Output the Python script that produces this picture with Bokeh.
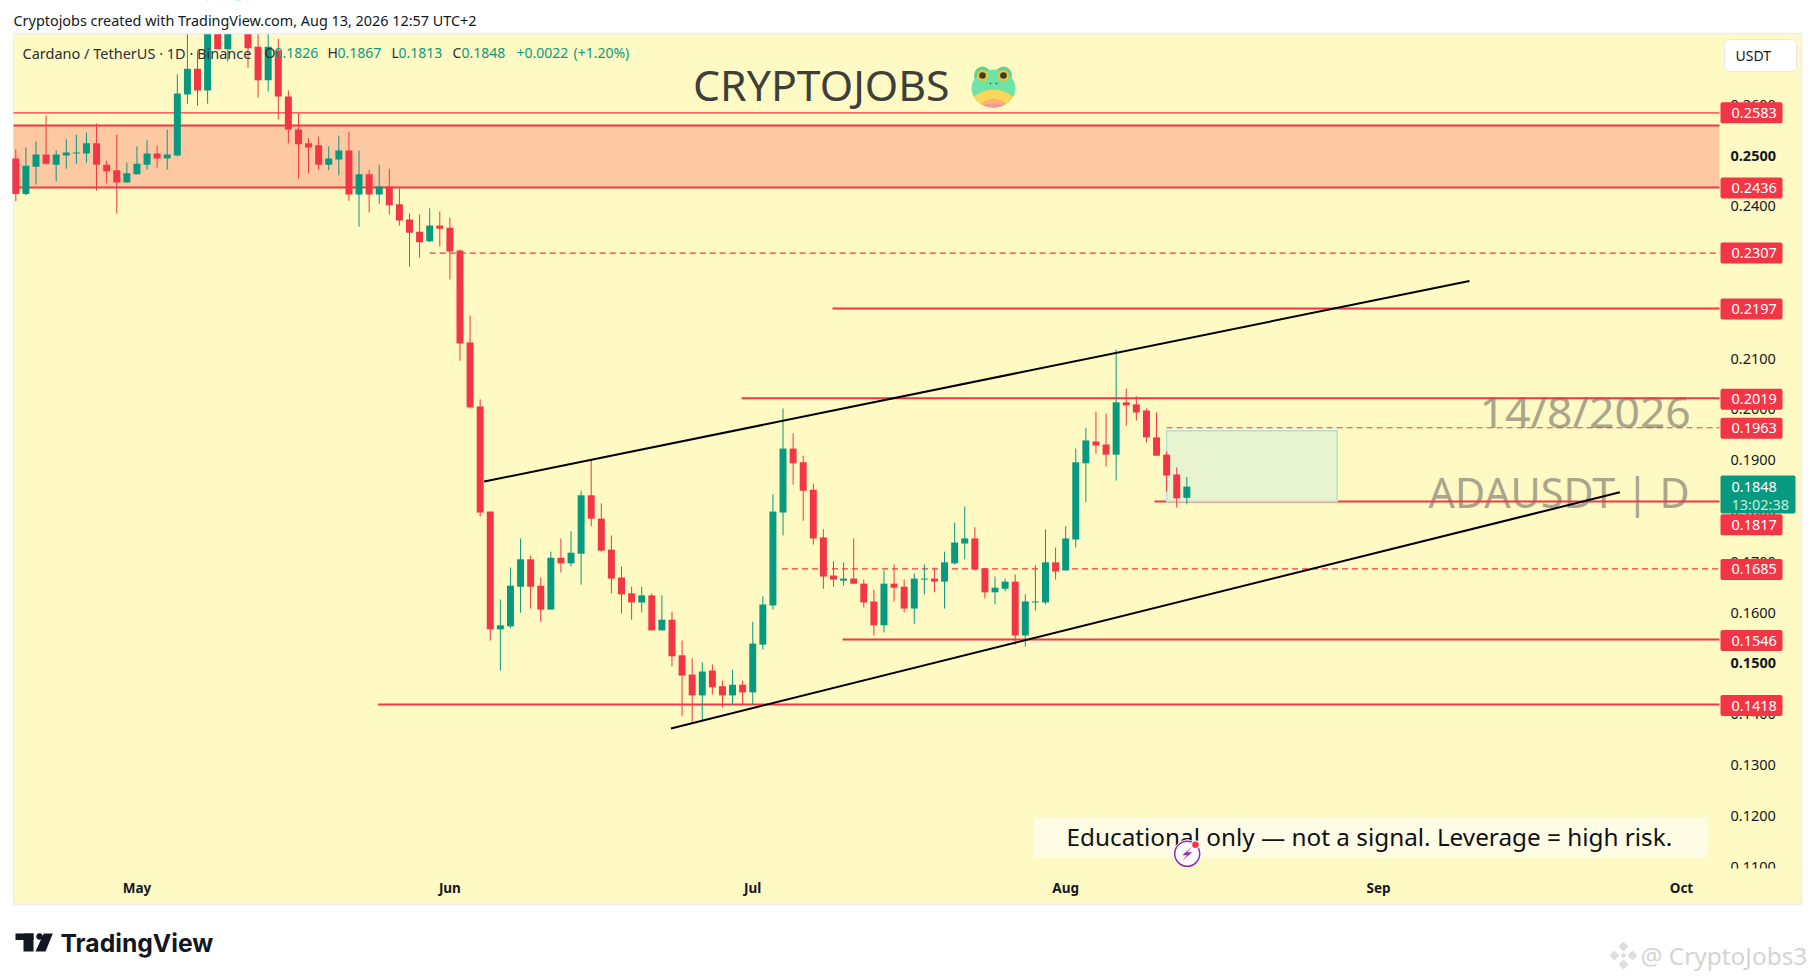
import numpy as np
from bokeh.core.properties import value
from bokeh.embed import file_html
from bokeh.models import FixedTicker, LinearAxis, NumeralTickFormatter, Range1d
from bokeh.plotting import figure
from bokeh.resources import INLINE

# ---- ADA/USDT daily candles, first candle 19 Apr (day -12), last 13 Aug (day 104); day 0 = 1 May ----
opens = [.2494,.2424,.2478,.2502,.2482,.2500,.2504,.2504,.2524,.2482,.2471,.2447,.2463,.2482,.2504,.2494,.2500,.2620,.2671,.2628,
         .2770,.2709,.2790,.2800,.2714,.2648,.2707,.2616,.2551,.2524,.2520,.2482,.2492,.2510,.2423,.2463,.2423,.2439,.2404,.2374,
         .2350,.2331,.2362,.2358,.2313,.2132,.2006,.1799,.1567,.1573,.1651,.1705,.1653,.1606,.1708,.1697,.1716,.1831,.1785,.1724,
         .1669,.1638,.1620,.1634,.1565,.1586,.1516,.1478,.1437,.1486,.1455,.1437,.1458,.1443,.1537,.1614,.1797,.1923,.1896,.1842,
         .1748,.1673,.1663,.1667,.1657,.1622,.1575,.1657,.1651,.1608,.1665,.1667,.1661,.1697,.1736,.1746,.1687,.1640,.1647,.1661,
         .1555,.1620,.1620,.1699,.1683,.1744,.1894,.1937,.1931,.1911,.2014,.2010,.1998,.1945,.1911,.1872,.1826]
highs = [.2512,.2516,.2528,.2579,.2510,.2532,.2541,.2545,.2563,.2490,.2541,.2486,.2518,.2530,.2520,.2551,.2660,.2775,.2707,.2830,
         .2810,.2800,.2860,.2830,.2780,.2780,.2730,.2628,.2583,.2534,.2537,.2518,.2539,.2547,.2510,.2472,.2482,.2474,.2435,.2386,
         .2384,.2396,.2390,.2378,.2315,.2185,.2020,.1799,.1626,.1689,.1746,.1712,.1669,.1720,.1746,.1760,.1840,.1901,.1815,.1752,
         .1691,.1651,.1651,.1638,.1634,.1602,.1545,.1510,.1502,.1498,.1466,.1488,.1466,.1582,.1632,.1833,.2002,.1953,.1909,.1854,
         .1764,.1701,.1699,.1746,.1665,.1645,.1683,.1695,.1665,.1677,.1695,.1689,.1720,.1777,.1809,.1768,.1687,.1671,.1667,.1675,
         .1636,.1693,.1764,.1728,.1770,.1923,.1964,.1996,.1992,.2118,.2041,.2026,.2002,.1994,.1917,.1886,.1867]
lows = [.2410,.2422,.2443,.2482,.2449,.2474,.2484,.2486,.2431,.2445,.2386,.2447,.2463,.2472,.2476,.2472,.2498,.2602,.2598,.2602,
        .2709,.2685,.2760,.2673,.2614,.2626,.2571,.2524,.2455,.2465,.2472,.2471,.2461,.2411,.2360,.2388,.2405,.2384,.2362,.2281,
        .2299,.2329,.2321,.2256,.2096,.2002,.1789,.1545,.1486,.1569,.1600,.1608,.1582,.1606,.1679,.1691,.1655,.1770,.1720,.1638,
        .1598,.1586,.1600,.1565,.1565,.1494,.1397,.1384,.1386,.1439,.1413,.1419,.1419,.1419,.1527,.1606,.1752,.1852,.1781,.1734,
        .1647,.1651,.1653,.1657,.1610,.1555,.1561,.1622,.1600,.1578,.1636,.1640,.1608,.1695,.1705,.1683,.1628,.1616,.1642,.1537,
        .1533,.1604,.1616,.1665,.1683,.1728,.1817,.1913,.1888,.1860,.1968,.1978,.1935,.1909,.1838,.1807,.1813]
closes = [.2424,.2480,.2502,.2484,.2502,.2506,.2506,.2524,.2482,.2469,.2447,.2465,.2484,.2504,.2494,.2502,.2622,.2671,.2628,.2770,
          .2709,.2780,.2830,.2711,.2648,.2714,.2616,.2551,.2522,.2516,.2482,.2494,.2510,.2423,.2463,.2423,.2439,.2402,.2372,.2348,
          .2329,.2362,.2356,.2311,.2130,.2004,.1797,.1567,.1575,.1653,.1705,.1651,.1606,.1708,.1697,.1718,.1831,.1785,.1722,.1667,
          .1636,.1620,.1634,.1565,.1586,.1514,.1476,.1437,.1484,.1453,.1437,.1458,.1443,.1539,.1616,.1799,.1923,.1894,.1840,.1746,
          .1671,.1665,.1667,.1657,.1620,.1575,.1657,.1649,.1608,.1667,.1667,.1661,.1699,.1738,.1746,.1685,.1640,.1649,.1661,.1555,
          .1622,.1622,.1699,.1681,.1746,.1896,.1939,.1929,.1911,.2014,.2008,.1994,.1945,.1909,.1870,.1825,.1848]
first_day = -12

price_ticks = [.11, .12, .13, .14, .16, .17, .18, .19, .20, .21, .22, .23, .24, .26]
strong_ticks = [.25, .15]
month_days = [0, 31, 61, 92, 123, 153]
month_names = ["May", "Jun", "Jul", "Aug", "Sep", "Oct"]

# level, start day (None = from the left edge)
level_lines = [.2584, .2559, .2437, .2308, .2199, .2022, .1964, .1819, .1686, .1547, .1419]
level_start = [None, None, None, 29, 68.9, 59.9, 102, 100.8, 63.9, 69.9, 23.9]
level_width = [1.2, 2, 2, 1.2, 2, 2, 1.2, 2, 1.2, 2, 2]
level_dash = ["solid", "solid", "solid", "6 4", "solid", "solid", "6 4", "solid", "6 4", "solid", "solid"]

badge_text = ["0.2583", "0.2436", "0.2307", "0.2197", "0.2019", "0.1963", "0.1817", "0.1685", "0.1546", "0.1418"]
badge_price = [.2584, .2436, .2308, .2198, .2020, .1963, .1773, .1685, .1545, .1417]

upper_channel_days, upper_channel_prices = [34.4, 132.0], [.1858, .2253]
lower_channel_days, lower_channel_prices = [52.9, 146.9], [.1372, .1837]
zone_top, zone_bottom = .2559, .2437
target_left, target_right, target_top, target_bottom = 102, 118.9, .1958, .1819

RED, GREEN = "#f23645", "#089981"
CREAM = "#fff9c4"
INK = "#131722"
FONT = "Noto Sans"


def X(px):
    return (px - 15.3) / 10.095 - 12


def Y(py):
    return 0.28052 - 0.00019689 * py


W, H = 1814, 980
x_left, x_right = X(13), X(1719)

p = figure(width=W, height=H, output_backend="svg", toolbar_location=None,
           x_range=Range1d(X(0), X(W)), y_range=Range1d(Y(H), Y(0)),
           x_axis_location=None, y_axis_location=None,
           min_border_left=0, min_border_top=0, min_border_right=0, min_border_bottom=0,
           background_fill_color="white", border_fill_color="white", outline_line_color=None)
p.grid.visible = False

# cream panel, below the axes
p.quad(left=[X(13)], right=[X(1801)], top=[Y(33)], bottom=[Y(904)], fill_color=CREAM,
       line_color="#efefef", line_width=1.5, level="image")

ya = LinearAxis(ticker=FixedTicker(ticks=price_ticks), formatter=NumeralTickFormatter(format="0.0000"))
ya.axis_line_color = None
ya.major_tick_line_color = None
ya.minor_tick_line_color = None
ya.major_tick_in = ya.major_tick_out = ya.minor_tick_in = ya.minor_tick_out = 0
ya.major_label_standoff = 1730 - W
ya.major_label_text_font = FONT
ya.major_label_text_font_size = "14.5px"
ya.major_label_text_color = INK
ya.level = "underlay"
p.add_layout(ya, "right")

xa = LinearAxis(ticker=FixedTicker(ticks=month_days),
                major_label_overrides={d: n for d, n in zip(month_days, month_names)})
xa.axis_line_color = None
xa.major_tick_line_color = None
xa.minor_tick_line_color = None
xa.major_tick_in = xa.major_tick_out = xa.minor_tick_in = xa.minor_tick_out = 0
xa.major_label_standoff = 878 - H
xa.major_label_text_font = FONT
xa.major_label_text_font_size = "13.5px"
xa.major_label_text_font_style = "bold"
xa.major_label_text_color = INK
xa.level = "underlay"
p.add_layout(xa, "below")


def note(px, py, txt, size, color, align="left", style="normal", font=FONT, alpha=1.0):
    """Text whose baseline sits at reference row py."""
    p.text([X(px)], [Y(py - 0.41 * size)], text=[txt], text_font=value(font), text_font_size=f"{size}px",
           text_color=color, text_align=align, text_baseline="alphabetic", text_font_style=style, text_alpha=alpha)


def mid(px, py, txt, size, color, style="normal", font=FONT):
    """Text vertically centred at reference row py."""
    p.text([X(px)], [Y(py)], text=[txt], text_font=value(font), text_font_size=f"{size}px",
           text_color=color, text_align="left", text_baseline="middle", text_font_style=style)


def tag(top, bottom, left, right, color, line=None, radius=0):
    p.quad(left=[X(left)], right=[X(right)], top=[Y(top)], bottom=[Y(bottom)], fill_color=color,
           line_color=line, border_radius=radius)


def poly(xs, ys, color):
    p.patch(X(np.asarray(xs, float)), Y(np.asarray(ys, float)), fill_color=color, line_color=None)


# large captions under the drawings
note(1479, 428, "14/8/2026", 44.5, "#a9a68c")
note(1428, 508, "ADAUSDT | D", 41.3, "#a9a68c")

# zone
p.quad(left=[x_left], right=[x_right], top=[zone_top], bottom=[zone_bottom], fill_color="#fdc9a2", line_color=None)

# level lines
for lv, st, w, d in zip(level_lines, level_start, level_width, level_dash):
    p.line([x_left if st is None else st, x_right], [lv, lv], line_color=RED, line_width=w, line_dash=d)

# target box
p.quad(left=[target_left], right=[target_right], top=[target_top], bottom=[target_bottom],
       fill_color="#e8f3cf", line_color="#b2e0dc", line_width=1.5)

# candles
days = np.arange(len(opens)) + first_day
o, h, l, c = map(np.array, (opens, highs, lows, closes))
col = np.where(c >= o, GREEN, RED).tolist()
p.segment(days, h, days, l, color=col, line_width=1)
p.vbar(days, width=0.69, top=np.maximum(o, c), bottom=np.minimum(o, c), fill_color=col, line_color=None)

# what rises above the chart's top edge is out of view
tag(-40, 33, -5, W + 5, "white")
p.line([X(13), X(1801)], [Y(33), Y(33)], line_color="#efefef", line_width=1.5)
# the lowest price label is cut by the time scale
tag(868, 876, 1720, 1800, CREAM)

# channel
p.line(upper_channel_days, upper_channel_prices, line_color="black", line_width=2)
p.line(lower_channel_days, lower_channel_prices, line_color="black", line_width=2)

# legend row
note(22, 58, "Cardano / TetherUS · 1D · Binance", 14.5, "#2a2e39")
for px, t, col_ in [(264, "O", "#2a2e39"), (274, "0.1826", GREEN), (327, "H", "#2a2e39"), (337, "0.1867", GREEN),
                    (391, "L", "#2a2e39"), (398, "0.1813", GREEN), (452, "C", "#2a2e39"), (461, "0.1848", GREEN),
                    (516, "+0.0022", GREEN), (573, "(+1.20%)", GREEN)]:
    note(px, 58, t, 14, col_)

# title and frog
note(692.5, 102, "CRYPTOJOBS", 42.8, "#3e3e3a")


def frog_ellipse(cx, cy, rx, ry, color):
    p.ellipse([X(cx)], [Y(cy)], width=2 * rx / 10.095, height=2 * ry * 0.00019689, fill_color=color, line_color=None)


frog_ellipse(982, 75, 8.5, 9, "#5fcf9b")
frog_ellipse(1003, 75, 8.5, 9, "#5fcf9b")
frog_ellipse(993, 88, 22, 19, "#6fe3a6")
t = np.linspace(0, np.pi, 60)
for top_y, sag, color in [(89, 7, "#f8d75b"), (98, 5, "#fbb36b"), (103, 1.5, "#f59a9a")]:
    ex = 993 + 22 * np.cos(t)
    ey = 88 + 19 * np.sin(t)
    keep = ey >= top_y + sag
    hx = np.linspace(ex[keep][-1], ex[keep][0], 15)
    hy = top_y + sag * ((hx - 993) / (ex[keep][0] - 993)) ** 2
    poly(np.r_[ex[keep], hx], np.r_[ey[keep], hy], color)
for ex_ in (982, 1003):
    frog_ellipse(ex_, 75, 5.5, 5.5, "#f1c232")
    frog_ellipse(ex_, 75, 3.3, 3.3, "#3b3b30")
frog_ellipse(990, 83, 0.8, 0.8, "#3b3b30")
frog_ellipse(996, 83, 0.8, 0.8, "#3b3b30")

# disclaimer
tag(817, 857, 1033, 1707, "#fffce6")
note(1066, 846, "Educational only — not a signal. Leverage  = high risk.", 24.3, "#111111")

# bolt icon
frog_ellipse(1186.7, 853.3, 14, 14, "white")
p.ellipse([X(1186.7)], [Y(853.3)], width=25 / 10.095, height=25 * 0.00019689, fill_color="white",
          line_color="#9c27b0", line_width=1.5)
poly(np.array([5, -5, 0, -5, 5, 0]) + 1186.7, np.array([-7, 1.5, 1.5, 7, -1.5, -1.5]) + 853.3, "#9c27b0")
frog_ellipse(1195, 844.3, 4.5, 4.5, "white")
frog_ellipse(1195, 844.3, 3.3, 3.3, RED)

# price badges
for pr in strong_ticks:
    mid(1730, (0.28052 - pr) / 0.00019689, f"{pr:.4f}", 14.5, INK, style="bold")

for tx, pr in zip(badge_text, badge_price):
    py = (0.28052 - pr) / 0.00019689
    tag(py - 10.5, py + 10.5, 1720, 1782, RED, radius=2)
    mid(1731, py, tx, 14.5, "white")

tag(475, 513, 1720, 1795, GREEN, radius=2)
mid(1731, 486, "0.1848", 14.5, "white")
mid(1731, 503, "13:02:38", 14.5, "#c9ecd9")

tag(39, 71, 1724, 1796, "white", line="#e8e8e8", radius=5)
mid(1735, 55, "USDT", 14, INK)

# page furniture
mid(13, 20, "Cryptojobs created with TradingView.com, Aug 13, 2026 12:57 UTC+2", 14.4, INK)
mid(60, 942, "TradingView", 24.7, "#131722", style="bold", font="Inter")
tag(933, 939.5, 15, 33, "#131722")
tag(933, 951, 23, 33, "#131722")
poly(39 + 3.3 * np.cos(np.linspace(0, 6.28, 24)), 936 + 3.3 * np.sin(np.linspace(0, 6.28, 24)), "#131722")
poly([43.3, 52.3, 45, 35], [933, 933, 951, 951], "#131722")

mid(1640, 955, "@ CryptoJobs3", 24.4, "#d4d4d4")
for dx_, dy_, r_ in [(0, -9, 5), (-9, 0, 5), (9, 0, 5), (0, 9, 5), (0, 0, 3)]:
    poly([1623 + dx_, 1623 + dx_ + r_, 1623 + dx_, 1623 + dx_ - r_],
         [955 + dy_ - r_, 955 + dy_, 955 + dy_ + r_, 955 + dy_], "#dedede")

open("out.html", "w").write(file_html(p, INLINE))
